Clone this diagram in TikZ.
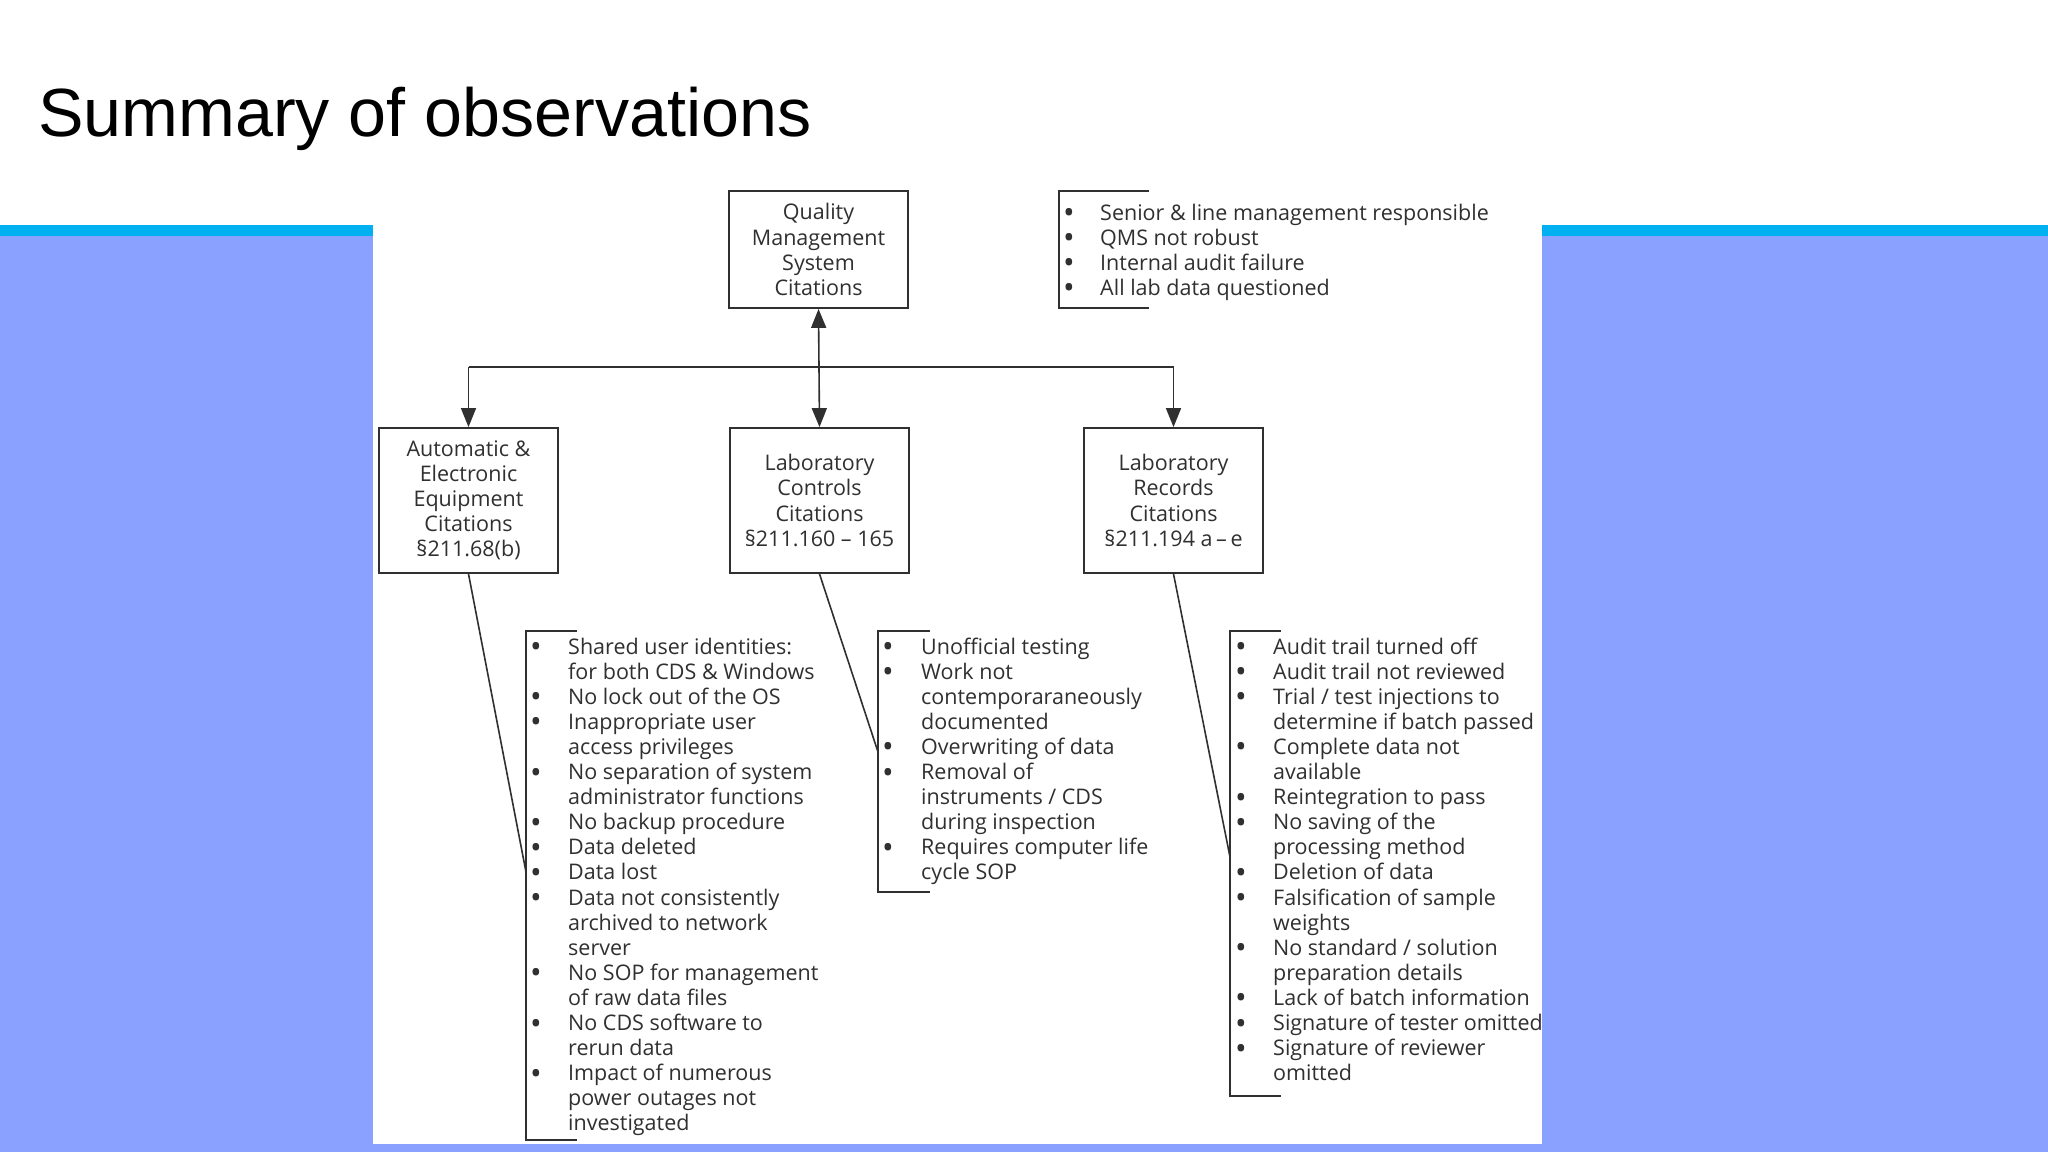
\documentclass[tikz,border=0pt]{standalone}
\usepackage{fontspec}
\setmainfont{Open Sans}
\newfontfamily\titlefont{Liberation Sans}
\usepackage{array}
\usetikzlibrary{arrows.meta}
\definecolor{slideblue}{RGB}{139,161,255}
\definecolor{barcyan}{RGB}{0,176,240}
\definecolor{ink}{RGB}{48,48,48}
\newcommand\dfont{\fontsize{21.5}{25.1}\selectfont}
\newcommand\bul{\raisebox{-3.5pt}{\fontsize{31}{25.1}\selectfont •}}
\begin{document}
\begin{tikzpicture}[x=1pt,y=-1pt,
  citebox/.style={draw=ink, line width=1.8pt, minimum width=179pt, align=center,
    font=\dfont, text=ink, inner sep=0pt},
  obslist/.style={anchor=base west, inner sep=0pt, text=ink, font=\dfont},
  conn/.style={draw=ink, line width=1.6pt},
  arr/.style={conn, -{Triangle[length=19pt,width=15pt]}},
  bracketline/.style={draw=ink, line width=2pt}]
\useasboundingbox (0,0) rectangle (2048,1152);
\fill[white] (0,0) rectangle (2048,1152);
\fill[slideblue] (0,236) rectangle (2048,1152);
\fill[barcyan] (0,225) rectangle (2048,236);
\fill[white] (373,183) rectangle (1542,1144);
\node[anchor=base west, inner sep=0pt, font=\titlefont\fontsize{68.2}{80}\selectfont] (title) at (38,136) {Summary of observations};

\begin{scope}
\clip (373,183) rectangle (1542,1144);
% boxes
\node[citebox, minimum height=117pt] (qms) at (818.5,249.5) {Quality\\Management\\System\\Citations};
\node[citebox, minimum height=145pt] (aee) at (468.5,500.5) {Automatic \&\\Electronic\\Equipment\\Citations\\§211.68(b)};
\node[citebox, minimum height=145pt] (lc) at (819.5,500.5) {Laboratory\\Controls\\Citations\\§211.160 – 165};
\node[citebox, minimum height=145pt] (lr) at (1173.5,500.5) {Laboratory\\Records\\Citations\\§211.194 a\,–\,e};

% arrows
\coordinate (hy) at (0,367);
\coordinate (hl) at (aee.north |- hy);
\coordinate (hr) at (lr.north |- hy);
\draw[conn] (hl) -- (hr);
\draw[arr] (hl) -- (aee.north);
\draw[arr] (hr) -- (lr.north);
\draw[conn, {Triangle[length=19pt,width=15pt]}-{Triangle[length=19pt,width=15pt]}] (qms.south) -- (lc.north);

% lists
\node[obslist] (qmslist) at (1063,220) {\begin{tabular}[t]{@{}p{37pt}@{}l@{}}
\bul & Senior \& line management responsible\\
\bul & QMS not robust\\
\bul & Internal audit failure\\
\bul & All lab data questioned
\end{tabular}};
\node[obslist] (aeelist) at (530,654) {\begin{tabular}[t]{@{}p{38pt}@{}l@{}}
\bul & Shared user identities:\\
 & for both CDS \& Windows\\
\bul & No lock out of the OS\\
\bul & Inappropriate user\\
 & access privileges\\
\bul & No separation of system\\
 & administrator functions\\
\bul & No backup procedure\\
\bul & Data deleted\\
\bul & Data lost\\
\bul & Data not consistently\\
 & archived to network\\
 & server\\
\bul & No SOP for management\\
 & of raw data files\\
\bul & No CDS software to\\
 & rerun data\\
\bul & Impact of numerous\\
 & power outages not\\
 & investigated
\end{tabular}};
\node[obslist] (lclist) at (882,654) {\begin{tabular}[t]{@{}p{39pt}@{}l@{}}
\bul & Unofficial testing\\
\bul & Work not\\
 & contemporaraneously\\
 & documented\\
\bul & Overwriting of data\\
\bul & Removal of\\
 & instruments / CDS\\
 & during inspection\\
\bul & Requires computer life\\
 & cycle SOP
\end{tabular}};
\node[obslist] (lrlist) at (1235,654) {\begin{tabular}[t]{@{}p{38pt}@{}l@{}}
\bul & Audit trail turned off\\
\bul & Audit trail not reviewed\\
\bul & Trial / test injections to\\
 & determine if batch passed\\
\bul & Complete data not\\
 & available\\
\bul & Reintegration to pass\\
\bul & No saving of the\\
 & processing method\\
\bul & Deletion of data\\
\bul & Falsification of sample\\
 & weights\\
\bul & No standard / solution\\
 & preparation details\\
\bul & Lack of batch information\\
\bul & Signature of tester omitted\\
\bul & Signature of reviewer\\
 & omitted
\end{tabular}};

% brackets
\draw[bracketline] (1149,191) -- (1059,191) -- (1059,308) -- (1149,308);
\draw[bracketline] (577,631) -- (526,631) -- (526,1140) -- (577,1140);
\draw[bracketline] (930,631) -- (878,631) -- (878,892) -- (930,892);
\draw[bracketline] (1281,631) -- (1230,631) -- (1230,1096) -- (1281,1096);

% connectors to lists
\coordinate (aeehit) at (526,872);
\coordinate (lchit) at (878,752);
\coordinate (lrhit) at (1230,857);
\draw[conn] (aee.south) -- (aeehit);
\draw[conn] (lc.south) -- (lchit);
\draw[conn] (lr.south) -- (lrhit);
\end{scope}
\end{tikzpicture}
\end{document}
